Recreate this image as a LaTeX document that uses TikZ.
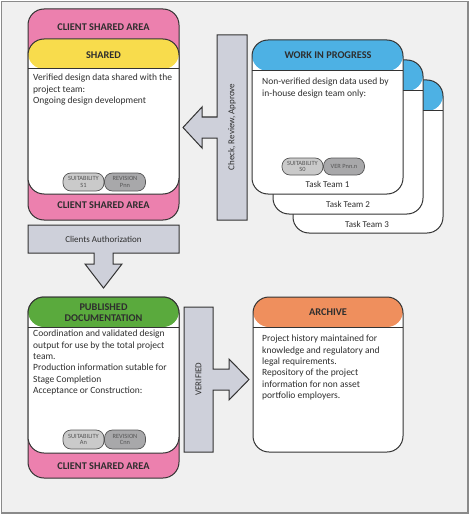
\documentclass[tikz,border=0pt]{standalone}
\usepackage{fontspec}
\setmainfont{Carlito}
\definecolor{bg}{HTML}{F0F0F0}
\definecolor{framec}{HTML}{8A8A8A}
\definecolor{pinkc}{HTML}{EC80AE}
\definecolor{yellowc}{HTML}{F8DC4C}
\definecolor{bluec}{HTML}{4DB1E4}
\definecolor{greenc}{HTML}{5AAA3D}
\definecolor{orangec}{HTML}{EF8F5D}
\definecolor{arrowc}{HTML}{CED0DA}
\definecolor{edge}{HTML}{333333}
\definecolor{pilllight}{HTML}{CACACA}
\definecolor{pilldark}{HTML}{A8A8AA}
\definecolor{txt}{HTML}{2E2E2E}
\definecolor{pilltxt}{HTML}{555555}
\begin{document}
\begin{tikzpicture}[x=1pt,y=-1pt,
  box/.style={draw=edge, line width=1pt, rounded corners=16pt, minimum width=151pt, inner sep=0pt, outer sep=0pt},
  hdr/.style 2 args={path picture={\fill[#1] (path picture bounding box.north west) rectangle ([yshift=-#2]path picture bounding box.north east);
     \draw[edge,line width=1pt] ([yshift=-#2]path picture bounding box.north west) -- ([yshift=-#2]path picture bounding box.north east);}},
  title/.style={font=\fontsize{10.3}{11.5}\selectfont\bfseries, text=txt, align=center, inner sep=0pt},
  body/.style={font=\fontsize{9.5}{11.3}\selectfont, text=txt, align=left, inner sep=0pt, anchor=north west},
  tasklbl/.style={font=\fontsize{9}{10}\selectfont, text=txt, inner sep=0pt},
  pill/.style={draw=pilltxt, line width=0.7pt, rounded corners=8pt, minimum width=41pt, inner sep=0pt,
     font=\fontsize{6.4}{6.8}\selectfont, text=pilltxt, align=center},
  pillA/.style={pill, fill=pilllight},
  pillB/.style={pill, fill=pilldark},
  barrow/.style={draw=edge, line width=1pt, fill=arrowc, line join=miter},
  arrowlbl/.style={font=\fontsize{9}{10}\selectfont, text=txt, inner sep=0pt}
]
\useasboundingbox (0,0) rectangle (474,516);
\fill[white] (0,0) rectangle (474,516);
\draw[draw=framec, fill=bg, line width=1.5pt] (1.5,1.5) rectangle (468,513);

% ---------- top left: shared ----------
\node[box, fill=pinkc, minimum height=211pt] (csa1) at (103.5,114.5) {};
\node[title] (csa1top) at (103.5,27.5) {CLIENT SHARED AREA};
\node[title] (csa1bot) at (103.5,205) {CLIENT SHARED AREA};
\node[box, fill=white, hdr={yellowc}{30pt}, minimum height=155pt] (shared) at (103.5,116.5) {};
\node[title] (sharedt) at (103.5,55) {SHARED};
\node[body] (sharedb) at (33,74) {Verified design data shared with the\\project team:\\Ongoing design development};
\node[pillA, minimum height=18pt] (s1) at (83.5,182) {SUITABILITY\\S1};
\node[pillB, minimum height=18pt] (pnn) at (125,182) {REVISION\\Pnn};

% ---------- check arrow ----------
\draw[barrow] (217,35) -- (247,35) -- (247,220) -- (217,220) -- (217,138) -- (202,138) -- (202,148) -- (183,127.5) -- (202,107) -- (202,117) -- (217,117) -- cycle;
\node[arrowlbl, rotate=90] (cra) at (232,127) {Check, Review, Approve};

% ---------- work in progress ----------
\node[box, fill=white, hdr={bluec}{31pt}, minimum width=150pt, minimum height=153pt] (wip3) at (368,156.5) {};
\node[tasklbl] (tt3) at (367,224) {Task Team 3};
\node[box, fill=white, hdr={bluec}{31pt}, minimum width=150pt, minimum height=154pt] (wip2) at (348,137) {};
\node[tasklbl] (tt2) at (348,204) {Task Team 2};
\node[box, fill=white, hdr={bluec}{31pt}, minimum width=151pt, minimum height=154pt] (wip1) at (327.5,117) {};
\node[tasklbl] (tt1) at (327.5,184) {Task Team 1};
\node[title] (wipt) at (328,55) {WORK IN PROGRESS};
\node[body] (wipb) at (262,78) {Non-verified design data used by\\in-house design team only:};
\node[pillA, minimum height=17pt] (s0) at (302.5,166.5) {SUITABILITY\\S0};
\node[pillB, minimum height=17pt] (ver) at (344,166.5) {VER Pnn.n};

% ---------- clients authorization arrow ----------
\draw[barrow] (28,225) -- (179,225) -- (179,253) -- (113,253) -- (113,264) -- (122,264) -- (103.5,288) -- (85,264) -- (94,264) -- (94,253) -- (28,253) -- cycle;
\node[arrowlbl] (ca) at (103.5,239) {Clients Authorization};

% ---------- published ----------
\node[box, fill=pinkc, minimum height=181pt] (csa2) at (103.5,387.5) {};
\node[title] (csa2bot) at (103.5,466.5) {CLIENT SHARED AREA};
\node[box, fill=white, hdr={greenc}{30pt}, minimum height=156pt] (pub) at (103.5,375) {};
\node[title] (pubt) at (103.5,312.5) {PUBLISHED\\DOCUMENTATION};
\node[body] (pubb) at (33,330) {Coordination and validated design\\output for use by the total project\\team.\\Production information sutable for\\Stage Completion\\Acceptance or Construction:};
\node[pillA, minimum height=19pt] (an) at (83.5,439.5) {SUITABILITY\\An};
\node[pillB, minimum height=19pt] (cnn) at (125,439.5) {REVISION\\Cnn};

% ---------- verified arrow ----------
\draw[barrow] (184,307) -- (213,307) -- (213,369) -- (229,369) -- (229,359) -- (249,379.5) -- (229,400) -- (229,390) -- (213,390) -- (213,452) -- (184,452) -- cycle;
\node[arrowlbl, rotate=90] (ver2) at (198.5,379) {VERIFIED};

% ---------- archive ----------
\node[box, fill=white, hdr={orangec}{30pt}, minimum width=150pt, minimum height=155pt] (arch) at (328,374.5) {};
\node[title] (archt) at (328,312.5) {ARCHIVE};
\node[body] (archb) at (262,335) {Project history maintained for\\knowledge and regulatory and\\legal requirements.\\Repository of the project\\information for non asset\\portfolio employers.};
\end{tikzpicture}
\end{document}
